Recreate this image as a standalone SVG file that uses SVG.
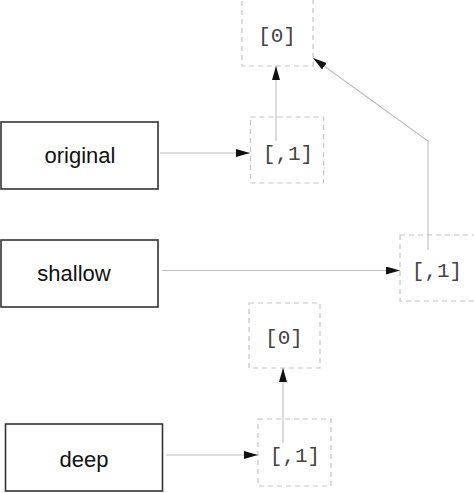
<svg xmlns="http://www.w3.org/2000/svg" width="474" height="493" viewBox="0 0 474 493">
<style>
.var rect{fill:#fff;stroke:#333;stroke-width:1.6}
.var text{font-family:"Liberation Sans",Arial,sans-serif;font-size:22px;fill:#111;text-anchor:middle}
.cell rect{fill:none;stroke:#c4c4c4;stroke-width:1.2;stroke-dasharray:5,4}
.cell text{font-family:"Liberation Mono","Courier New",monospace;font-size:21px;fill:#444;text-anchor:middle}
.edge{fill:none;stroke:#bdbdbd;stroke-width:1.1}
</style>
<defs>
<marker id="ah" markerWidth="14" markerHeight="8" refX="14" refY="4" orient="auto" markerUnits="userSpaceOnUse">
<path d="M0,0 L14,4 L0,8 Z" fill="#111"/>
</marker>
</defs>
<rect width="474" height="493" fill="#fff"/>
<g id="original" class="var"><rect x="1" y="122" width="157" height="67"/><text x="80" y="163">original</text></g>
<g id="shallow" class="var"><rect x="1" y="240" width="157" height="67"/><text x="74" y="281">shallow</text></g>
<g id="deep" class="var"><rect x="5.5" y="424" width="157" height="67"/><text x="84" y="467">deep</text></g>
<g id="orig0" class="cell"><rect x="242" y="-2" width="71" height="68"/><text x="277" y="42">[0]</text></g>
<g id="orig1" class="cell"><rect x="250.5" y="117" width="73" height="66"/><text x="288" y="160">[,1]</text></g>
<g id="shallow1" class="cell"><rect x="400" y="235" width="76" height="66"/><text x="437" y="277">[,1]</text></g>
<g id="deep0" class="cell"><rect x="249" y="303" width="71" height="65"/><text x="284" y="344">[0]</text></g>
<g id="deep1" class="cell"><rect x="258" y="419" width="73" height="67"/><text x="295" y="462">[,1]</text></g>
<g id="connectors">
<line class="edge" x1="160" y1="153" x2="250" y2="153" marker-end="url(#ah)"/>
<line class="edge" x1="276" y1="141" x2="276" y2="66" marker-end="url(#ah)"/>
<polyline class="edge" points="428,250 428,141 313,58" marker-end="url(#ah)"/>
<line class="edge" x1="162" y1="270.5" x2="400" y2="270.5" marker-end="url(#ah)"/>
<line class="edge" x1="283" y1="443" x2="283" y2="368" marker-end="url(#ah)"/>
<line class="edge" x1="166" y1="455" x2="258" y2="455" marker-end="url(#ah)"/>
</g>
</svg>
